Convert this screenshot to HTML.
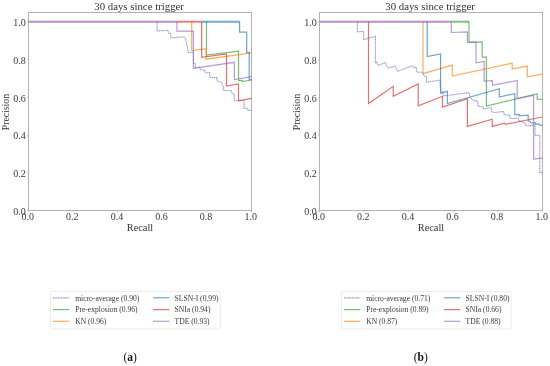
<!DOCTYPE html>
<html><head><meta charset="utf-8"><style>
html,body{margin:0;padding:0;background:#fff;}
body{width:550px;height:366px;overflow:hidden;}
svg{display:block;}
text{font-family:"Liberation Serif",serif;fill:#333;}
.tl{font-size:10px;fill:#3a3a3a;}
.ti{font-size:10.8px;fill:#333;}
.al{font-size:10.4px;fill:#333;}
.lt{font-size:7.6px;fill:#3a3a3a;}
.sp{fill:none;stroke:#b3b3b3;stroke-width:1;}
.tk{stroke:#b3b3b3;stroke-width:0.8;}
.lg{fill:#fff;stroke:#e9e9e9;stroke-width:0.8;}
.ln{fill:none;stroke-width:1.2;stroke-opacity:0.66;stroke-linejoin:miter;}
.dot{stroke-dasharray:1 0.9;stroke-width:1.1;stroke-opacity:0.36;}
.mbase{stroke-width:0.9;stroke-opacity:0.24;}
.ldot{stroke-dasharray:1.1 0.5;stroke-width:1.7;stroke-opacity:0.38;}
.top{stroke-width:2.0;stroke-opacity:0.62;}
.sub{font-size:11.5px;fill:#111;}
</style></head><body>
<svg width="550" height="366" viewBox="0 0 550 366">
<line x1="28.50" y1="210.5" x2="28.50" y2="212.0" class="tk"/>
<text x="27.70" y="219.60" class="tl" text-anchor="middle">0.0</text>
<line x1="27.0" y1="210.50" x2="28.5" y2="210.50" class="tk"/>
<text x="25.70" y="214.70" class="tl" text-anchor="end">0.0</text>
<line x1="73.10" y1="210.5" x2="73.10" y2="212.0" class="tk"/>
<text x="72.30" y="219.60" class="tl" text-anchor="middle">0.2</text>
<line x1="27.0" y1="172.79" x2="28.5" y2="172.79" class="tk"/>
<text x="25.70" y="176.99" class="tl" text-anchor="end">0.2</text>
<line x1="117.70" y1="210.5" x2="117.70" y2="212.0" class="tk"/>
<text x="116.90" y="219.60" class="tl" text-anchor="middle">0.4</text>
<line x1="27.0" y1="135.07" x2="28.5" y2="135.07" class="tk"/>
<text x="25.70" y="139.27" class="tl" text-anchor="end">0.4</text>
<line x1="162.30" y1="210.5" x2="162.30" y2="212.0" class="tk"/>
<text x="161.50" y="219.60" class="tl" text-anchor="middle">0.6</text>
<line x1="27.0" y1="97.36" x2="28.5" y2="97.36" class="tk"/>
<text x="25.70" y="101.56" class="tl" text-anchor="end">0.6</text>
<line x1="206.90" y1="210.5" x2="206.90" y2="212.0" class="tk"/>
<text x="206.10" y="219.60" class="tl" text-anchor="middle">0.8</text>
<line x1="27.0" y1="59.64" x2="28.5" y2="59.64" class="tk"/>
<text x="25.70" y="63.84" class="tl" text-anchor="end">0.8</text>
<line x1="251.50" y1="210.5" x2="251.50" y2="212.0" class="tk"/>
<text x="250.70" y="219.60" class="tl" text-anchor="middle">1.0</text>
<line x1="27.0" y1="21.93" x2="28.5" y2="21.93" class="tk"/>
<text x="25.70" y="26.13" class="tl" text-anchor="end">1.0</text>
<rect x="28.5" y="12.5" width="223.0" height="198.0" class="sp"/>
<text x="139.10" y="10.00" class="ti" text-anchor="middle">30 days since trigger</text>
<text x="140.00" y="230.50" class="al" text-anchor="middle">Recall</text>
<text transform="translate(9.40,112.10) rotate(-90)" class="al" text-anchor="middle" textLength="36.2" lengthAdjust="spacingAndGlyphs">Precision</text>
<line x1="319.50" y1="210.5" x2="319.50" y2="212.0" class="tk"/>
<text x="318.70" y="219.60" class="tl" text-anchor="middle">0.0</text>
<line x1="318.0" y1="210.50" x2="319.5" y2="210.50" class="tk"/>
<text x="316.70" y="214.70" class="tl" text-anchor="end">0.0</text>
<line x1="364.10" y1="210.5" x2="364.10" y2="212.0" class="tk"/>
<text x="363.30" y="219.60" class="tl" text-anchor="middle">0.2</text>
<line x1="318.0" y1="172.79" x2="319.5" y2="172.79" class="tk"/>
<text x="316.70" y="176.99" class="tl" text-anchor="end">0.2</text>
<line x1="408.70" y1="210.5" x2="408.70" y2="212.0" class="tk"/>
<text x="407.90" y="219.60" class="tl" text-anchor="middle">0.4</text>
<line x1="318.0" y1="135.07" x2="319.5" y2="135.07" class="tk"/>
<text x="316.70" y="139.27" class="tl" text-anchor="end">0.4</text>
<line x1="453.30" y1="210.5" x2="453.30" y2="212.0" class="tk"/>
<text x="452.50" y="219.60" class="tl" text-anchor="middle">0.6</text>
<line x1="318.0" y1="97.36" x2="319.5" y2="97.36" class="tk"/>
<text x="316.70" y="101.56" class="tl" text-anchor="end">0.6</text>
<line x1="497.90" y1="210.5" x2="497.90" y2="212.0" class="tk"/>
<text x="497.10" y="219.60" class="tl" text-anchor="middle">0.8</text>
<line x1="318.0" y1="59.64" x2="319.5" y2="59.64" class="tk"/>
<text x="316.70" y="63.84" class="tl" text-anchor="end">0.8</text>
<line x1="542.50" y1="210.5" x2="542.50" y2="212.0" class="tk"/>
<text x="541.70" y="219.60" class="tl" text-anchor="middle">1.0</text>
<line x1="318.0" y1="21.93" x2="319.5" y2="21.93" class="tk"/>
<text x="316.70" y="26.13" class="tl" text-anchor="end">1.0</text>
<rect x="319.5" y="12.5" width="223.0" height="198.0" class="sp"/>
<text x="430.10" y="10.00" class="ti" text-anchor="middle">30 days since trigger</text>
<text x="431.00" y="230.50" class="al" text-anchor="middle">Recall</text>
<text transform="translate(300.40,112.10) rotate(-90)" class="al" text-anchor="middle" textLength="36.2" lengthAdjust="spacingAndGlyphs">Precision</text>
<polyline points="157.10,21.50 157.10,31.00 167.70,30.30 168.70,33.20 170.70,33.70 170.90,37.90 184.20,36.80 185.30,38.50 186.30,42.00 187.20,46.00 188.20,52.60 193.40,52.30 193.40,63.50 195.30,63.50 195.30,68.00 200.00,67.00 200.30,70.00 204.90,70.20 205.30,73.00 209.60,72.70 209.80,77.00 211.50,77.50 216.80,77.60 217.30,81.00 221.10,82.20 223.20,86.00 223.40,90.30 225.40,90.40 231.40,90.70 232.00,93.20 234.10,94.20 234.40,100.70 244.00,100.60 244.00,108.40 247.80,108.30 248.00,110.50 251.50,110.40" stroke="#3333aa" class="ln mbase"/><polyline points="157.10,21.50 157.10,31.00 167.70,30.30 168.70,33.20 170.70,33.70 170.90,37.90 184.20,36.80 185.30,38.50 186.30,42.00 187.20,46.00 188.20,52.60 193.40,52.30 193.40,63.50 195.30,63.50 195.30,68.00 200.00,67.00 200.30,70.00 204.90,70.20 205.30,73.00 209.60,72.70 209.80,77.00 211.50,77.50 216.80,77.60 217.30,81.00 221.10,82.20 223.20,86.00 223.40,90.30 225.40,90.40 231.40,90.70 232.00,93.20 234.10,94.20 234.40,100.70 244.00,100.60 244.00,108.40 247.80,108.30 248.00,110.50 251.50,110.40" stroke="#3333aa" class="ln dot"/>
<polyline points="357.40,21.50 357.40,31.90 363.70,31.40 363.70,39.60 375.40,36.30 375.40,63.10 377.00,61.80 378.00,65.50 385.30,62.40 386.50,65.70 388.20,68.10 395.20,66.10 396.50,68.90 397.60,71.40 412.40,65.70 413.50,67.70 416.10,67.30 416.90,72.20 422.60,72.20 423.20,73.60 424.10,76.00 426.50,76.50 426.50,82.20 439.90,80.10 440.50,89.90 442.70,92.20 443.30,95.80 448.70,95.30 469.00,92.60 470.00,97.00 472.80,100.20 477.70,101.30 478.00,106.00 482.90,107.00 483.40,109.00 491.10,107.60 492.00,112.00 494.90,112.50 503.70,111.40 504.00,114.00 506.90,115.20 509.40,115.00 510.00,118.00 512.10,118.70 518.10,118.00 519.00,121.00 520.30,121.00 525.20,123.10 526.00,126.00 529.00,125.80 533.60,125.00 535.00,125.30 535.00,135.70 539.80,135.10 539.80,172.60 542.50,172.50" stroke="#3333aa" class="ln mbase"/><polyline points="357.40,21.50 357.40,31.90 363.70,31.40 363.70,39.60 375.40,36.30 375.40,63.10 377.00,61.80 378.00,65.50 385.30,62.40 386.50,65.70 388.20,68.10 395.20,66.10 396.50,68.90 397.60,71.40 412.40,65.70 413.50,67.70 416.10,67.30 416.90,72.20 422.60,72.20 423.20,73.60 424.10,76.00 426.50,76.50 426.50,82.20 439.90,80.10 440.50,89.90 442.70,92.20 443.30,95.80 448.70,95.30 469.00,92.60 470.00,97.00 472.80,100.20 477.70,101.30 478.00,106.00 482.90,107.00 483.40,109.00 491.10,107.60 492.00,112.00 494.90,112.50 503.70,111.40 504.00,114.00 506.90,115.20 509.40,115.00 510.00,118.00 512.10,118.70 518.10,118.00 519.00,121.00 520.30,121.00 525.20,123.10 526.00,126.00 529.00,125.80 533.60,125.00 535.00,125.30 535.00,135.70 539.80,135.10 539.80,172.60 542.50,172.50" stroke="#3333aa" class="ln dot"/>
<polyline points="206.50,21.50 206.50,55.10 238.50,51.10 238.50,80.60 242.30,80.40 242.60,81.60 251.50,80.00" stroke="#2ca02c" class="ln"/>
<polyline points="469.00,21.50 469.00,42.30 482.20,41.90 482.20,57.20 486.40,57.20 486.40,106.00 537.20,93.70 537.20,99.50 542.50,99.30" stroke="#2ca02c" class="ln"/>
<polyline points="191.70,21.50 191.70,50.60 206.10,48.60 206.10,59.20 251.50,52.90" stroke="#ff7f0e" class="ln"/>
<polyline points="423.00,21.50 423.00,73.70 452.30,65.10 452.30,76.10 512.20,63.20 512.20,69.00 527.30,66.10 527.30,76.90 542.50,74.10" stroke="#ff7f0e" class="ln"/>
<polyline points="239.60,21.50 239.60,32.20 246.70,32.00 246.70,52.30 249.20,52.30 249.20,79.70 251.50,79.50" stroke="#1f77b4" class="ln"/>
<polyline points="427.20,21.50 427.20,56.60 440.60,53.90 440.60,93.10 447.40,91.30 447.40,103.50 499.30,88.70 499.30,97.00 514.80,93.70 514.80,114.60 519.20,114.40 519.20,115.80 528.20,115.20 528.20,121.00 530.30,121.20 530.50,122.60 533.60,123.20 535.20,122.60 535.50,124.30 538.90,123.90 539.50,125.10 542.50,125.10" stroke="#1f77b4" class="ln"/>
<polyline points="201.70,21.50 201.70,57.30 226.50,54.00 226.50,86.10 238.50,84.00 238.50,100.80 251.50,98.40" stroke="#d62728" class="ln"/>
<polyline points="368.50,21.50 368.50,103.50 393.30,86.30 393.30,96.20 418.20,83.90 418.20,105.80 442.50,96.30 442.50,107.10 467.40,98.80 467.40,126.40 492.20,119.20 492.20,126.40 504.50,123.20 505.50,124.30 542.50,117.00" stroke="#d62728" class="ln"/>
<polyline points="176.90,21.50 176.90,31.10 193.40,31.00 193.40,68.40 234.40,62.30 234.40,79.50 251.50,76.70" stroke="#9467bd" class="ln"/>
<polyline points="451.30,21.50 451.30,32.50 467.40,31.90 467.40,42.30 476.00,41.80 476.00,62.90 484.10,61.40 484.10,81.20 492.50,80.60 492.50,85.30 517.20,80.50 517.20,98.60 533.60,95.30 533.60,159.10 542.50,158.20" stroke="#9467bd" class="ln"/>
<line x1="28.5" y1="21.7" x2="176.9" y2="21.7" stroke="#8a4e9e" class="ln top"/>
<line x1="176.9" y1="21.7" x2="201.7" y2="21.7" stroke="#d5604f" class="ln top" style="stroke-opacity:0.78"/>
<line x1="201.7" y1="21.7" x2="239.6" y2="21.7" stroke="#1f77b4" class="ln top"/>
<line x1="319.5" y1="21.7" x2="451.3" y2="21.7" stroke="#8a4e9e" class="ln top"/>
<line x1="451.3" y1="21.7" x2="469" y2="21.7" stroke="#2ca02c" class="ln top"/>
<rect x="50.5" y="291.5" width="169.70" height="37.40" rx="1.5" class="lg"/>
<line x1="53.0" y1="297.8" x2="69.3" y2="297.8" stroke="#3333aa" class="ln ldot"/>
<text x="75.2" y="300.50" class="lt">micro-average (0.90)</text>
<line x1="53.0" y1="309.6" x2="69.3" y2="309.6" stroke="#2ca02c" class="ln"/>
<text x="75.2" y="312.30" class="lt">Pre-explosion (0.96)</text>
<line x1="53.0" y1="321.3" x2="69.3" y2="321.3" stroke="#ff7f0e" class="ln"/>
<text x="75.2" y="324.00" class="lt">KN (0.96)</text>
<line x1="153.1" y1="297.8" x2="169.4" y2="297.8" stroke="#1f77b4" class="ln"/>
<text x="174.6" y="300.50" class="lt">SLSN-I (0.99)</text>
<line x1="153.1" y1="309.6" x2="169.4" y2="309.6" stroke="#d62728" class="ln"/>
<text x="174.6" y="312.30" class="lt">SNIa (0.94)</text>
<line x1="153.1" y1="321.3" x2="169.4" y2="321.3" stroke="#9467bd" class="ln"/>
<text x="174.6" y="324.00" class="lt">TDE (0.93)</text>
<rect x="341.5" y="291.5" width="169.70" height="37.40" rx="1.5" class="lg"/>
<line x1="344.0" y1="297.8" x2="360.3" y2="297.8" stroke="#3333aa" class="ln ldot"/>
<text x="366.2" y="300.50" class="lt">micro-average (0.71)</text>
<line x1="344.0" y1="309.6" x2="360.3" y2="309.6" stroke="#2ca02c" class="ln"/>
<text x="366.2" y="312.30" class="lt">Pre-explosion (0.89)</text>
<line x1="344.0" y1="321.3" x2="360.3" y2="321.3" stroke="#ff7f0e" class="ln"/>
<text x="366.2" y="324.00" class="lt">KN (0.87)</text>
<line x1="444.1" y1="297.8" x2="460.40000000000003" y2="297.8" stroke="#1f77b4" class="ln"/>
<text x="465.6" y="300.50" class="lt">SLSN-I (0.80)</text>
<line x1="444.1" y1="309.6" x2="460.40000000000003" y2="309.6" stroke="#d62728" class="ln"/>
<text x="465.6" y="312.30" class="lt">SNIa (0.66)</text>
<line x1="444.1" y1="321.3" x2="460.40000000000003" y2="321.3" stroke="#9467bd" class="ln"/>
<text x="465.6" y="324.00" class="lt">TDE (0.88)</text>
<text x="130.2" y="361" class="sub" text-anchor="middle">(<tspan font-weight="bold">a</tspan>)</text>
<text x="420.8" y="361" class="sub" text-anchor="middle">(<tspan font-weight="bold">b</tspan>)</text>
</svg>
</body></html>
